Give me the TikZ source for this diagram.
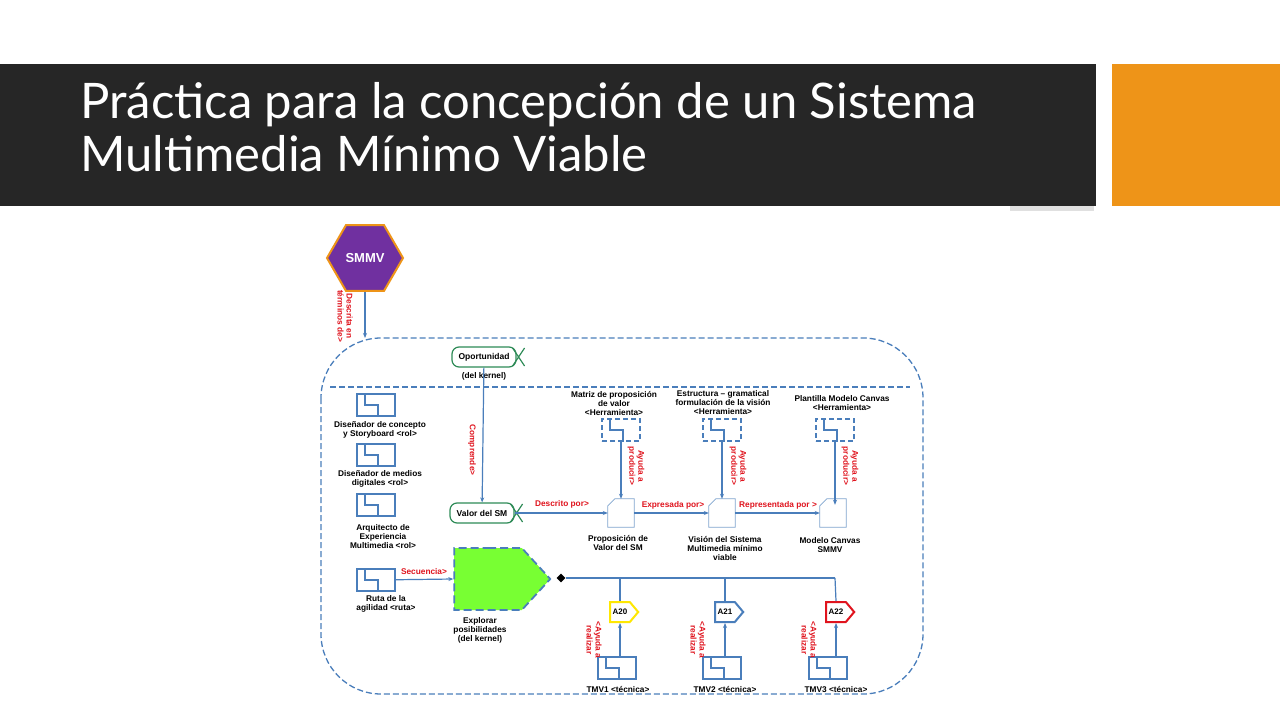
\documentclass[tikz,border=0pt]{standalone}
\usepackage{fontspec}
\setmainfont{Liberation Sans}
\newfontfamily\titlefont{Lato}
\usetikzlibrary{shapes.geometric,shapes.symbols,shapes.misc,arrows.meta,calc}
\definecolor{band}{HTML}{262626}
\definecolor{orng}{HTML}{EE9418}
\definecolor{bl}{HTML}{4A7EBB}
\definecolor{rd}{HTML}{E0141E}
\definecolor{grn}{HTML}{2E8B57}
\definecolor{purp}{HTML}{7030A0}
\tikzset{
 lbl/.style={font=\bfseries\fontsize{8.3}{9}\selectfont, align=center, inner sep=0.5pt},
 rlbl/.style={lbl, text=rd},
 conn/.style={draw=bl, line width=1.2pt, -{Stealth[length=5pt,width=4pt]}},
 plain/.style={draw=bl, line width=1.2pt},
 icon/.style={draw=bl, line width=1.8pt, minimum width=38pt, minimum height=22pt, inner sep=0pt},
 dicon/.style={icon, dashed, dash pattern=on 5pt off 3pt},
 kern/.style={draw=grn, line width=1.2pt, rounded corners=7pt, fill=white, font=\bfseries\fontsize{8.5}{9}\selectfont, minimum height=20pt, inner sep=3pt},
 docu/.style={minimum width=26pt, minimum height=28pt, inner sep=0pt},
 act/.style={signal, signal to=east, signal pointer angle=100, line width=2pt, fill=white, minimum width=28pt, minimum height=20pt, inner sep=1pt, font=\bfseries\fontsize{8}{8}\selectfont}
}
\newcommand{\iconlines}[1]{\draw[bl, line width=1.5pt] ([xshift=-11pt]#1.north) -- ([xshift=-11pt]#1.center) -- ([xshift=2pt]#1.center) -- ([xshift=2pt]#1.south);}
\newcommand{\docdraw}[1]{\draw[bl!70, line width=0.8pt, fill=white] ([yshift=-7pt]#1.north west) -- ([xshift=7pt]#1.north west) -- (#1.north east) -- (#1.south east) -- (#1.south west) -- cycle;}
\newcommand{\xmark}[1]{\draw[grn, line width=1.2pt] ($(#1.east)+(-4pt,-9pt)$) -- ($(#1.east)+(8pt,9pt)$) ($(#1.east)+(-4pt,9pt)$) -- ($(#1.east)+(8pt,-9pt)$);}
\begin{document}
\begin{tikzpicture}[x=1pt,y=-1pt]
\useasboundingbox (0,0) rectangle (1280,720);
\fill[white] (0,0) rectangle (1280,720);
\fill[black!12] (1010,206) rectangle (1094,211);
\fill[band] (0,64) rectangle (1096,206);
\fill[orng] (1112,64) rectangle (1280,206);
\node[anchor=north west, text=white, align=left, font=\titlefont\fontsize{49}{53}\selectfont, inner sep=0pt] (title) at (80,82) {Práctica para la concepción de un Sistema\\Multimedia Mínimo Viable};
\fill[white] (312,222) rectangle (928,702);
% container
\draw[bl, line width=1.3pt, dash pattern=on 6pt off 3pt, rounded corners=60pt] (321,338) rectangle (923,694);
\draw[bl, line width=1.3pt, dash pattern=on 6pt off 3pt] (330,387) -- (910,387);
\coordinate (ctop) at (365,338);
% SMMV
\node[regular polygon, regular polygon sides=6, minimum size=76pt, fill=purp, draw=orng, line width=2pt, text=white, font=\bfseries\fontsize{13}{13}\selectfont] (smmv) at (365,258) {SMMV};
\draw[conn] (smmv) -- (ctop);
\node[rlbl, rotate=-90] (d1) at (345,316) {Descrita en\\términos de>};
% kernel alphas
\node[kern, minimum width=64pt] (opo) at (484,357) {Oportunidad};
\xmark{opo}
\node[lbl] (opok) at (484,376) {(del kernel)};
\node[kern, minimum width=64pt] (valor) at (482,513) {Valor del SM};
\xmark{valor}
\draw[conn] (opo) -- (valor);
\node[rlbl, rotate=-90] (comp) at (472,450) {Comprende>};
% roles
\node[icon] (r1) at (376,405) {}; \iconlines{r1}
\node[lbl] (r1l) at (380,430) {Diseñador  de concepto\\y Storyboard <rol>};
\node[icon] (r2) at (376,455) {}; \iconlines{r2}
\node[lbl] (r2l) at (380,479) {Diseñador de medios\\digitales <rol>};
\node[icon] (r3) at (376,505) {}; \iconlines{r3}
\node[lbl] (r3l) at (383,537) {Arquitecto de\\Experiencia\\Multimedia <rol>};
\node[icon] (r4) at (376,580) {}; \iconlines{r4}
\node[lbl] (r4l) at (386,604) {Ruta de la\\agilidad <ruta>};
% documents
\node[docu] (p1) at (621,513) {}; \docdraw{p1}
\node[docu] (p2) at (722,513) {}; \docdraw{p2}
\node[docu] (p3) at (833,513) {}; \docdraw{p3}
\node[lbl] (p1l) at (618,543) {Proposición de\\Valor del SM};
\node[lbl] (p2l) at (725,548) {Visión del Sistema\\Multimedia mínimo\\viable};
\node[lbl] (p3l) at (830,545) {Modelo Canvas\\SMMV};
\draw[conn] (valor.east) -- (p1.west);
\node[rlbl] at (562,504) {Descrito  por>};
\draw[conn] (p1) -- (p2);
\node[rlbl] at (673,505) {Expresada por>};
\draw[conn] (p2) -- (p3);
\node[rlbl] at (778,505) {Representada por >};
% tools
\node[dicon] (t1) at (621,430) {}; \iconlines{t1}
\node[dicon] (t2) at (722,430) {}; \iconlines{t2}
\node[dicon] (t3) at (835,430) {}; \iconlines{t3}
\node[lbl] at (614,403) {Matriz de proposición\\de valor\\<Herramienta>};
\node[lbl] at (723,403) {Estructura – gramatical\\formulación de la visión\\<Herramienta>};
\node[lbl] at (842,403) {Plantilla Modelo Canvas\\<Herramienta>};
\draw[conn] (t1.south) -- (p1.north -| t1.south);
\draw[conn] (t2.south) -- (p2.north -| t2.south);
\draw[conn] (t3.south) -- ([yshift=-6pt]p3.north -| t3.south);
\node[rlbl, rotate=-90] at (636,466) {Ayuda a\\producir>};
\node[rlbl, rotate=-90] at (738,466) {Ayuda a\\producir>};
\node[rlbl, rotate=-90] at (850,466) {Ayuda a\\producir>};
% activity space
\node[signal, signal to=east, signal pointer angle=95, fill=green!55!lime!80!white, draw=bl, line width=1.8pt, dash pattern=on 8pt off 4pt, minimum width=96pt, minimum height=62pt] (expl) at (488,579) {};
\node[lbl] (expll) at (480,630) {Explorar\\posibilidades\\(del kernel)};
\draw[conn] (r4) -- (expl.west);
\node[rlbl] at (424,572) {Secuencia>};
\node[diamond, fill=black, minimum size=9pt, inner sep=0pt] (dia) at (561,578) {};
\coordinate (hend) at (835,578);
\draw[plain] (dia) -- (hend);
\node[act, draw=yellow!90!orange] (a20) at (620,612) {A20};
\node[act, draw=bl] (a21) at (725,612) {A21};
\node[act, draw=rd] (a22) at (836,612) {A22};
\draw[plain] (a20.north |- hend) -- (a20.north);
\draw[plain] (a21.north |- hend) -- (a21.north);
\draw[plain] (hend) -- (a22.north);
\node[icon] (m1) at (617,668) {}; \iconlines{m1}
\node[icon] (m2) at (722,668) {}; \iconlines{m2}
\node[icon] (m3) at (828,668) {}; \iconlines{m3}
\draw[conn] (m1.north -| a20.south) -- (a20.south);
\draw[conn] (m2.north -| a21.south) -- (a21.south);
\draw[conn] (m3.north -| a22.south) -- (a22.south);
\node[rlbl, rotate=-90] at (594,640) {<Ayuda a\\realizar};
\node[rlbl, rotate=-90] at (698,640) {<Ayuda a\\realizar};
\node[rlbl, rotate=-90] at (809,640) {<Ayuda a\\realizar};
\node[lbl] at (618,689) {TMV1 <técnica>};
\node[lbl] at (725,689) {TMV2 <técnica>};
\node[lbl] at (836,689) {TMV3 <técnica>};
\end{tikzpicture}
\end{document}
